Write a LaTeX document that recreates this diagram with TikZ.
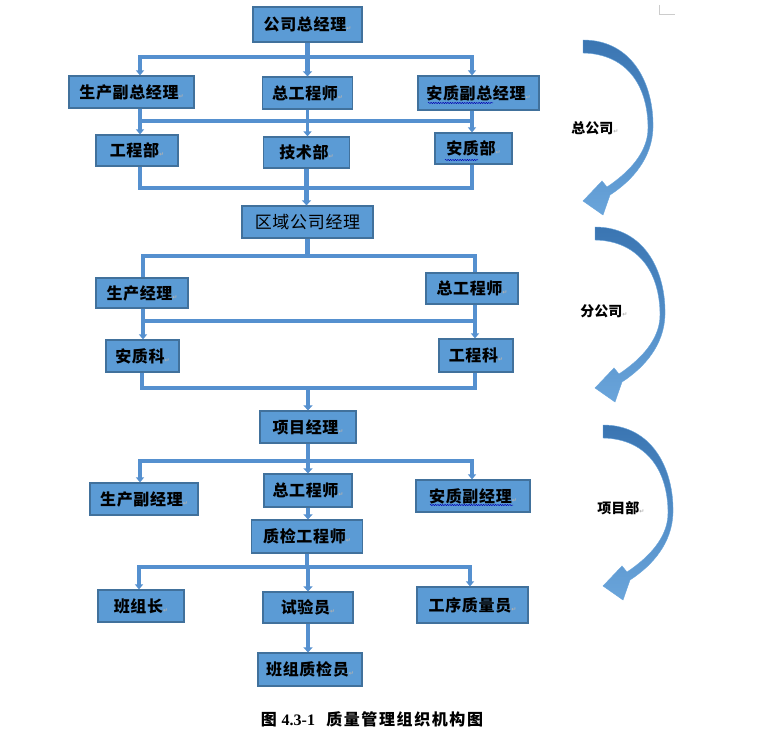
\documentclass[tikz,border=0pt]{standalone}
\usepackage{fontspec}
\setmainfont{Liberation Serif}
\newfontfamily\cjk{Noto Sans CJK SC}[LetterSpace=4]
\newfontfamily\cjkside{Noto Sans CJK SC}
\newfontfamily\cjkcap{Noto Sans CJK SC}[LetterSpace=10]
\newfontfamily\symfont{DejaVu Sans}
\usetikzlibrary{arrows.meta,decorations.pathmorphing}
\definecolor{boxfill}{HTML}{5B9BD5}
\definecolor{boxline}{HTML}{41719C}
\definecolor{conn}{HTML}{5590CF}
\definecolor{arrdark}{HTML}{3A75B2}
\definecolor{arrlight}{HTML}{6AA5DB}
\newcommand{\pmark}{{\symfont\fontsize{6}{6}\selectfont\color{black!30}↵}}
\tikzset{
  orgbox/.style={draw=boxline, fill=boxfill, line width=1.2pt, inner sep=0pt,
    font=\cjk\bfseries\fontsize{16}{16}\selectfont, text=black},
  link/.style={draw=conn, line width=3.2pt},
  bus/.style={link, line cap=rect},
  trunk/.style={draw=conn, line width=4.5pt},
  linkarr/.style={link, -{Triangle[length=5pt,width=8pt]}},
  trunkarr/.style={trunk, -{Triangle[length=5pt,width=9pt]}},
  sidelabel/.style={font=\cjkside\bfseries\fontsize{14}{14}\selectfont, text=black},
  wavy/.style={draw=blue!70!black, line width=0.5pt, decorate,
    decoration={snake, amplitude=0.6pt, segment length=2.4pt}},
  curvarrow/.pic={
    \path[top color=arrdark, bottom color=arrlight, draw=arrlight, line width=0.4pt]
      (0,0) .. controls (50,0) and (71,45) .. (70,88)
      .. controls (69,118) and (50,140) .. (27,155)
      -- (20,175) -- (0,161) -- (19,141) -- (24,147)
      .. controls (45,133) and (65,113) .. (65,88)
      .. controls (65,47) and (45,14) .. (0,13) -- cycle;
  }
}
\begin{document}
\begin{tikzpicture}[x=1pt, y=-1pt]
\fill[white] (0,0) rectangle (760,735);
\useasboundingbox (0,0) rectangle (760,735);

% ---------- boxes ----------
\node[orgbox, minimum width=109pt, minimum height=35pt] (gm) at (307.5,24.5) {公司总经理\pmark};
\node[orgbox, minimum width=125pt, minimum height=32pt] (r2a) at (131.5,92) {生产副总经理\pmark};
\node[orgbox, minimum width=90pt, minimum height=32pt] (r2b) at (307.5,93) {总工程师\pmark};
\node[orgbox, minimum width=121pt, minimum height=34pt] (r2c) at (478.5,93) {安质副总经理\pmark};
\node[orgbox, minimum width=82pt, minimum height=31pt] (r3a) at (137,150.5) {工程部\pmark};
\node[orgbox, minimum width=86pt, minimum height=31pt] (r3b) at (306.5,152.5) {技术部\pmark};
\node[orgbox, minimum width=77pt, minimum height=31pt] (r3c) at (473.5,148.5) {安质部\pmark};
\node[orgbox, minimum width=131pt, minimum height=32pt,
      font=\cjk\fontsize{17}{17}\selectfont] (rg) at (307.5,222) {区域公司经理};
\node[orgbox, minimum width=92pt, minimum height=30pt] (bp) at (142,293) {生产经理\pmark};
\node[orgbox, minimum width=92pt, minimum height=31pt] (be) at (472,288.5) {总工程师\pmark};
\node[orgbox, minimum width=73pt, minimum height=32pt] (bq) at (142.5,356) {安质科\pmark};
\node[orgbox, minimum width=74pt, minimum height=33pt] (bk) at (476,355.5) {工程科\pmark};
\node[orgbox, minimum width=96pt, minimum height=32pt] (pm) at (308,427) {项目经理\pmark};
\node[orgbox, minimum width=108pt, minimum height=32pt] (p1) at (144,499) {生产副经理\pmark};
\node[orgbox, minimum width=88pt, minimum height=33pt] (p2) at (308,490.5) {总工程师\pmark};
\node[orgbox, minimum width=114pt, minimum height=32pt] (p3) at (473,496) {安质副经理\pmark};
\node[orgbox, minimum width=111pt, minimum height=33pt] (qe) at (307,536.5) {质检工程师\pmark};
\node[orgbox, minimum width=86pt, minimum height=32pt] (w1) at (141,606) {班组长\pmark};
\node[orgbox, minimum width=90pt, minimum height=31pt] (w2) at (308,607.5) {试验员\pmark};
\node[orgbox, minimum width=111pt, minimum height=36pt] (w3) at (472.5,605) {工序质量员\pmark};
\node[orgbox, minimum width=104pt, minimum height=33pt] (w4) at (310,669.5) {班组质检员\pmark};

% ---------- bus coordinates ----------
\coordinate (b1L) at (140,57);  \coordinate (b1R) at (472,57);
\coordinate (b2L) at (140,121); \coordinate (b2R) at (472,121);
\coordinate (b3L) at (140,188); \coordinate (b3R) at (472,188);
\coordinate (b4L) at (143,256); \coordinate (b4R) at (475,256);
\coordinate (b5L) at (143,321); \coordinate (b5R) at (475,321);
\coordinate (b6L) at (142,388); \coordinate (b6R) at (475,388);
\coordinate (b7L) at (140,461); \coordinate (b7R) at (472,461);
\coordinate (b8L) at (139,567); \coordinate (b8R) at (470,567);

% ---------- level 1 ----------
\draw[bus] (b1L) -- (b1R);
\draw[trunk] (gm.south) -- (gm.south |- b1L);
\draw[linkarr] (b1L) -- (b1L |- r2a.north);
\draw[trunkarr] (gm.south |- b1L) -- (r2b.north);
\draw[linkarr] (b1R) -- (b1R |- r2c.north);
% ---------- level 2 ----------
\draw[bus] (b2L) -- (b2R);
\draw[linkarr] (b2L |- r2a.south) -- (b2L |- r3a.north);
\draw[linkarr] (r2b.south) -- (r2b.south |- r3b.north);
\draw[linkarr] (b2R |- r2c.south) -- (b2R |- r3c.north);
% ---------- level 3 ----------
\draw[bus] (b3L) -- (b3R);
\draw[link] (b3L |- r3a.south) -- (b3L);
\draw[link] (b3R |- r3c.south) -- (b3R);
\draw[trunkarr] (r3b.south) -- (r3b.south |- rg.north);
% ---------- level 4 ----------
\draw[bus] (b4L) -- (b4R);
\draw[trunk] (rg.south) -- (rg.south |- b4L);
\draw[link] (b4L) -- (b4L |- bp.north);
\draw[link] (b4R) -- (b4R |- be.north);
% ---------- level 5 ----------
\draw[bus] (b5L) -- (b5R);
\draw[linkarr] (b5L |- bp.south) -- (b5L |- bq.north);
\draw[linkarr] (b5R |- be.south) -- (b5R |- bk.north);
% ---------- level 6 ----------
\draw[bus] (b6L) -- (b6R);
\draw[link] (b6L |- bq.south) -- (b6L);
\draw[link] (b6R |- bk.south) -- (b6R);
\draw[trunkarr] (b6L -| pm.north) -- (pm.north);
% ---------- level 7 ----------
\draw[bus] (b7L) -- (b7R);
\draw[trunk] (pm.south) -- (pm.south |- b7L);
\draw[trunkarr] (pm.south |- b7L) -- (p2.north);
\draw[linkarr] (b7L) -- (b7L |- p1.north);
\draw[linkarr] (b7R) -- (b7R |- p3.north);
\draw[trunkarr] (p2.south) -- (p2.south |- qe.north);
% ---------- level 8 ----------
\draw[bus] (b8L) -- (b8R);
\draw[trunk] (qe.south) -- (qe.south |- b8L);
\draw[linkarr] (b8L) -- (b8L |- w1.north);
\draw[trunkarr] (b8L -| w2.north) -- (w2.north);
\draw[linkarr] (b8R) -- (b8R |- w3.north);
\draw[trunkarr] (w2.south) -- (w2.south |- w4.north);

% ---------- spell-check underlines ----------
\draw[wavy] (428,103) -- (493,103);
\draw[wavy] (445,160) -- (478,160);
\draw[wavy] (430,505) -- (513,505);

% ---------- curved side arrows ----------
\pic at (583,40) {curvarrow};
\pic at (595,227) {curvarrow};
\pic at (603,425) {curvarrow};
\node[sidelabel] (s1) at (595,128) {总公司\pmark};
\node[sidelabel] (s2) at (604,311) {分公司\pmark};
\node[sidelabel] (s3) at (621,508) {项目部\pmark};

% ---------- page corner mark ----------
\draw[black!20, line width=0.8pt] (659,5) -- (659,14) -- (675,14);

% ---------- caption ----------
\node[font=\bfseries\fontsize{16}{16}\selectfont] (cap) at (372,719)
  {{\cjkcap 图}\hspace{0.3em}4.3-1\hspace{0.7em}{\cjkcap 质量管理组织机构图}};
\end{tikzpicture}
\end{document}
